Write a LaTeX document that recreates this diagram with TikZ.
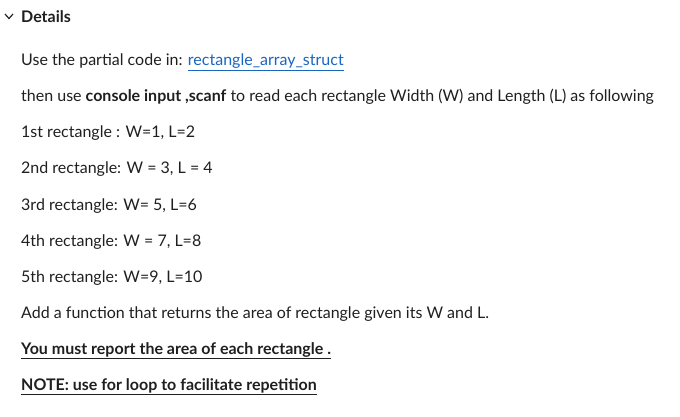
\documentclass[tikz,border=0pt]{standalone}
\usepackage{fontspec}
\setmainfont{Lato}
\definecolor{LinkClr}{rgb}{0.1,0.4,0.75}
\definecolor{TextClr}{rgb}{0.12,0.12,0.12}
\tikzset{line/.style={anchor=base west,inner sep=0pt,text=TextClr,font=\fontsize{16}{18}\selectfont}}

\begin{document}
\begin{tikzpicture}[x=1pt,y=-1pt]
\useasboundingbox (0,0) rectangle (680,417);

% chevron and heading
\draw[line width=1.2pt,TextClr] (5,14) -- (9,18.5) -- (13,14);
\node[line,font=\fontsize{16}{18}\selectfont\bfseries] (head) at (21,23) {Details};

% body lines
\node[line] (l1) at (21,66) {Use the partial code in: \textcolor{LinkClr}{\underline{rectangle\_array\_struct}}};
\node[line] (l2) at (21,102) {then use \textbf{console input ,scanf} to read each rectangle Width (W) and Length (L) as following};
\node[line] (l3) at (21,138) {1st rectangle : W=1, L=2};
\node[line] (l4) at (21,174) {2nd rectangle: W = 3, L = 4};
\node[line] (l5) at (21,210) {3rd rectangle: W= 5, L=6};
\node[line] (l6) at (21,246) {4th rectangle: W = 7, L=8};
\node[line] (l7) at (21,282) {5th rectangle: W=9, L=10};
\node[line] (l8) at (21,318) {Add a function that returns the area of rectangle given its W and L.};
\node[line] (l9) at (21,354) {\textbf{\underline{You must report the area of each rectangle .}}};
\node[line] (l10) at (21,390) {\textbf{\underline{NOTE: use for loop to facilitate repetition}}};

\end{tikzpicture}
\end{document}
